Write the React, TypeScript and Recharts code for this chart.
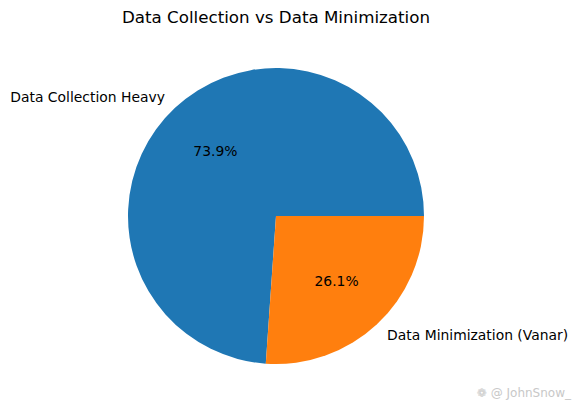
import { Cell, Pie, PieChart } from "recharts";

const categories = ["Data Collection Heavy", "Data Minimization (Vanar)"];
const shares = [73.9, 26.1];
const colors = ["#1f77b4", "#ff7f0e"];

const data = categories.map((name, i) => ({ name, value: shares[i] }));

const RADIAN = Math.PI / 180;
const FONT = "'DejaVu Sans', sans-serif";

function renderLabel(props: any) {
  const { cx, cy, midAngle, outerRadius, percent, name } = props;
  const cos = Math.cos(-midAngle * RADIAN);
  const sin = Math.sin(-midAngle * RADIAN);
  const ox = cx + outerRadius * 1.1 * cos;
  const oy = cy + outerRadius * 1.1 * sin;
  const ix = cx + outerRadius * 0.6 * cos;
  const iy = cy + outerRadius * 0.6 * sin;
  return (
    <g>
      <text
        x={ox}
        y={oy}
        textAnchor={cos >= 0 ? "start" : "end"}
        dominantBaseline="central"
        fontSize={13.9}
        fontFamily={FONT}
        fill="#000"
      >
        {name}
      </text>
      <text
        x={ix}
        y={iy}
        textAnchor="middle"
        dominantBaseline="central"
        fontSize={13.9}
        fontFamily={FONT}
        fill="#000"
      >
        {(percent * 100).toFixed(1)}%
      </text>
    </g>
  );
}

export default function App() {
  return (
    <div
      style={{
        position: "absolute",
        left: 0,
        top: 0,
        width: 578,
        height: 411,
        background: "#fff",
        fontFamily: FONT,
      }}
    >
      <div
        style={{
          position: "absolute",
          left: 0,
          width: 552,
          top: 7,
          textAlign: "center",
          fontSize: 16.7,
          color: "#000",
        }}
      >
        Data Collection vs Data Minimization
      </div>
      <PieChart
        width={578}
        height={411}
        margin={{ top: 0, right: 0, bottom: 0, left: 0 }}
      >
        <Pie
          data={data}
          dataKey="value"
          nameKey="name"
          cx={276}
          cy={216}
          outerRadius={148}
          startAngle={0}
          endAngle={360}
          stroke="none"
          label={renderLabel}
          labelLine={false}
          isAnimationActive={false}
        >
          {data.map((entry, i) => (
            <Cell key={entry.name} fill={colors[i]} />
          ))}
        </Pie>
      </PieChart>
      <div
        style={{
          position: "absolute",
          right: 7,
          top: 386,
          fontSize: 12,
          color: "#c8c8c8",
          whiteSpace: "nowrap",
        }}
      >
        ❁ @ JohnSnow_
      </div>
    </div>
  );
}
